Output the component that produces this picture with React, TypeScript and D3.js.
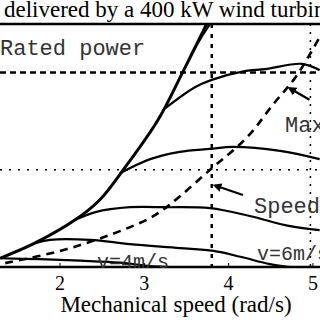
import React from "react";
import * as d3 from "d3";

// x: mechanical speed (rad/s), y: power (kW)
const xTicks = [2, 3, 4, 5];
const maxSpeed = [1.29, 1.7, 2.18, 2.47, 2.75, 3.16, 3.45, 3.74];
const maxPower = [18, 49, 97, 138, 200, 302, 399, 500];

const maxSpeed2 = [3.55, 3.66, 3.78];
const maxPower2 = [436, 468, 500];

const v12Speed = [3.25, 3.6, 3.8, 4.19, 4.43, 4.87, 5.08];
const v12Power = [327, 370, 385, 403, 407, 418, 405];

const v10Speed = [2.71, 3.07, 3.42, 3.78, 4.05, 4.61, 5.08];
const v10Power = [193, 222, 237, 243, 247, 239, 222];

const v8Speed = [2.18, 2.42, 2.83, 3.25, 3.78, 4.25, 4.73, 5.08];
const v8Power = [97, 113, 123, 123, 121, 105, 84, 76];

const v6Speed = [1.7, 1.88, 2.36, 2.83, 3.42, 3.82, 4.14, 4.49, 4.73];
const v6Power = [49, 56, 56, 47, 39, 33, 21, 6, 0];

const v4Speed = [1.29, 1.76, 2.24, 2.71, 3.07, 3.3];
const v4Power = [18, 16, 13, 9, 2, 0];

const dashSpeed = [1.35, 2.0, 2.59, 3.07, 3.3, 3.78, 4.22, 4.53, 4.8, 5.08];
const dashPower = [8, 33, 66, 101, 128, 200, 267, 335, 392, 473];

const ratedPower = 400;
const refPower = 200;
const refSpeed1 = 3.8;
const refSpeed2 = 4.97;

const W = 320;
const H = 320;

export default function App() {
  const x = d3.scaleLinear().domain([1.288, 5.084]).range([0, 320]);
  const y = d3.scaleLinear().domain([0, 500]).range([267, 24]);
  const line = d3
    .line<[number, number]>()
    .x((d) => x(d[0]))
    .y((d) => y(d[1]))
    .curve(d3.curveCatmullRom.alpha(0.5));
  const mk = (xs: number[], ys: number[]) =>
    line(xs.map((v, i) => [v, ys[i]] as [number, number])) || "";

  const solids = [
    [v4Speed, v4Power],
    [v6Speed, v6Power],
    [v8Speed, v8Power],
    [v10Speed, v10Power],
    [v12Speed, v12Power],
    [maxSpeed2, maxPower2],
  ];

  const mono = "'Liberation Mono', 'DejaVu Sans Mono', monospace";
  const serif = "'Liberation Serif', 'DejaVu Serif', serif";

  return (
    <svg
      width={W}
      height={H}
      style={{ position: "fixed", left: 0, top: 0, background: "#fff" }}
    >
      <defs>
        <marker
          id="ah"
          viewBox="0 0 10 10"
          refX="1"
          refY="5"
          markerWidth="4"
          markerHeight="4"
          orient="auto-start-reverse"
        >
          <path d="M0,0 L10,5 L0,10 z" fill="#000" />
        </marker>
      </defs>
      <rect x={0} y={0} width={W} height={H} fill="#fff" />

      {/* title */}
      <text x={4} y={17} fontFamily={serif} fontSize={23} fill="#000">
        delivered by a 400 kW wind turbine
      </text>

      {/* reference lines */}
      <line
        x1={0}
        x2={W}
        y1={y(ratedPower)}
        y2={y(ratedPower)}
        stroke="#000"
        strokeWidth={2.5}
        strokeDasharray="6,4"
      />
      <line
        x1={0}
        x2={W}
        y1={y(refPower)}
        y2={y(refPower)}
        stroke="#000"
        strokeWidth={1.5}
        strokeDasharray="2,7"
      />
      <line
        x1={x(refSpeed1)}
        x2={x(refSpeed1)}
        y1={y(500)}
        y2={y(0)}
        stroke="#000"
        strokeWidth={2.5}
        strokeDasharray="4,6"
      />
      <line
        x1={x(refSpeed2)}
        x2={x(refSpeed2)}
        y1={y(500)}
        y2={y(0)}
        stroke="#000"
        strokeWidth={1.5}
        strokeDasharray="2,6"
      />

      {/* curves */}
      {solids.map((s, i) => (
        <path
          key={i}
          d={mk(s[0], s[1])}
          fill="none"
          stroke="#000"
          strokeWidth={2.2}
        />
      ))}
      <path
        d={mk(maxSpeed, maxPower)}
        fill="none"
        stroke="#000"
        strokeWidth={3}
      />
      <path
        d={mk(dashSpeed, dashPower)}
        fill="none"
        stroke="#000"
        strokeWidth={2.6}
        strokeDasharray="8,6"
      />

      {/* arrows */}
      <line
        x1={x(4.96)}
        y1={y(344)}
        x2={x(4.78)}
        y2={y(362)}
        stroke="#000"
        strokeWidth={2.2}
        markerEnd="url(#ah)"
      />
      <line
        x1={x(4.17)}
        y1={y(148)}
        x2={x(3.9)}
        y2={y(164)}
        stroke="#000"
        strokeWidth={2.2}
        markerEnd="url(#ah)"
      />

      {/* axes frame */}
      <line x1={0} x2={W} y1={y(500)} y2={y(500)} stroke="#000" strokeWidth={2.5} />
      <line x1={0} x2={W} y1={y(0)} y2={y(0)} stroke="#000" strokeWidth={2.5} />
      {xTicks.map((t) => (
        <g key={t}>
          <line
            x1={x(t)}
            x2={x(t)}
            y1={y(0)}
            y2={y(0) - 4}
            stroke="#000"
            strokeWidth={1}
          />
          <text
            x={x(t)}
            y={290}
            textAnchor="middle"
            fontFamily={serif}
            fontSize={20}
            fill="#000"
          >
            {t}
          </text>
        </g>
      ))}
      <text
        x={176}
        y={312}
        textAnchor="middle"
        fontFamily={serif}
        fontSize={23}
        fill="#000"
      >
        Mechanical speed (rad/s)
      </text>

      {/* annotations */}
      <text x={0} y={55} fontFamily={mono} fontSize={22} fill="#333">
        Rated power
      </text>
      <text x={285} y={132} fontFamily={mono} fontSize={22} fill="#333">
        Max
      </text>
      <text x={254} y={213} fontFamily={mono} fontSize={22} fill="#333">
        Speed
      </text>
      <text x={257} y={260} fontFamily={mono} fontSize={20} fill="#333">
        v=6m/s
      </text>
      <text x={97} y={268} fontFamily={mono} fontSize={20} fill="#333">
        v=4m/s
      </text>
    </svg>
  );
}
